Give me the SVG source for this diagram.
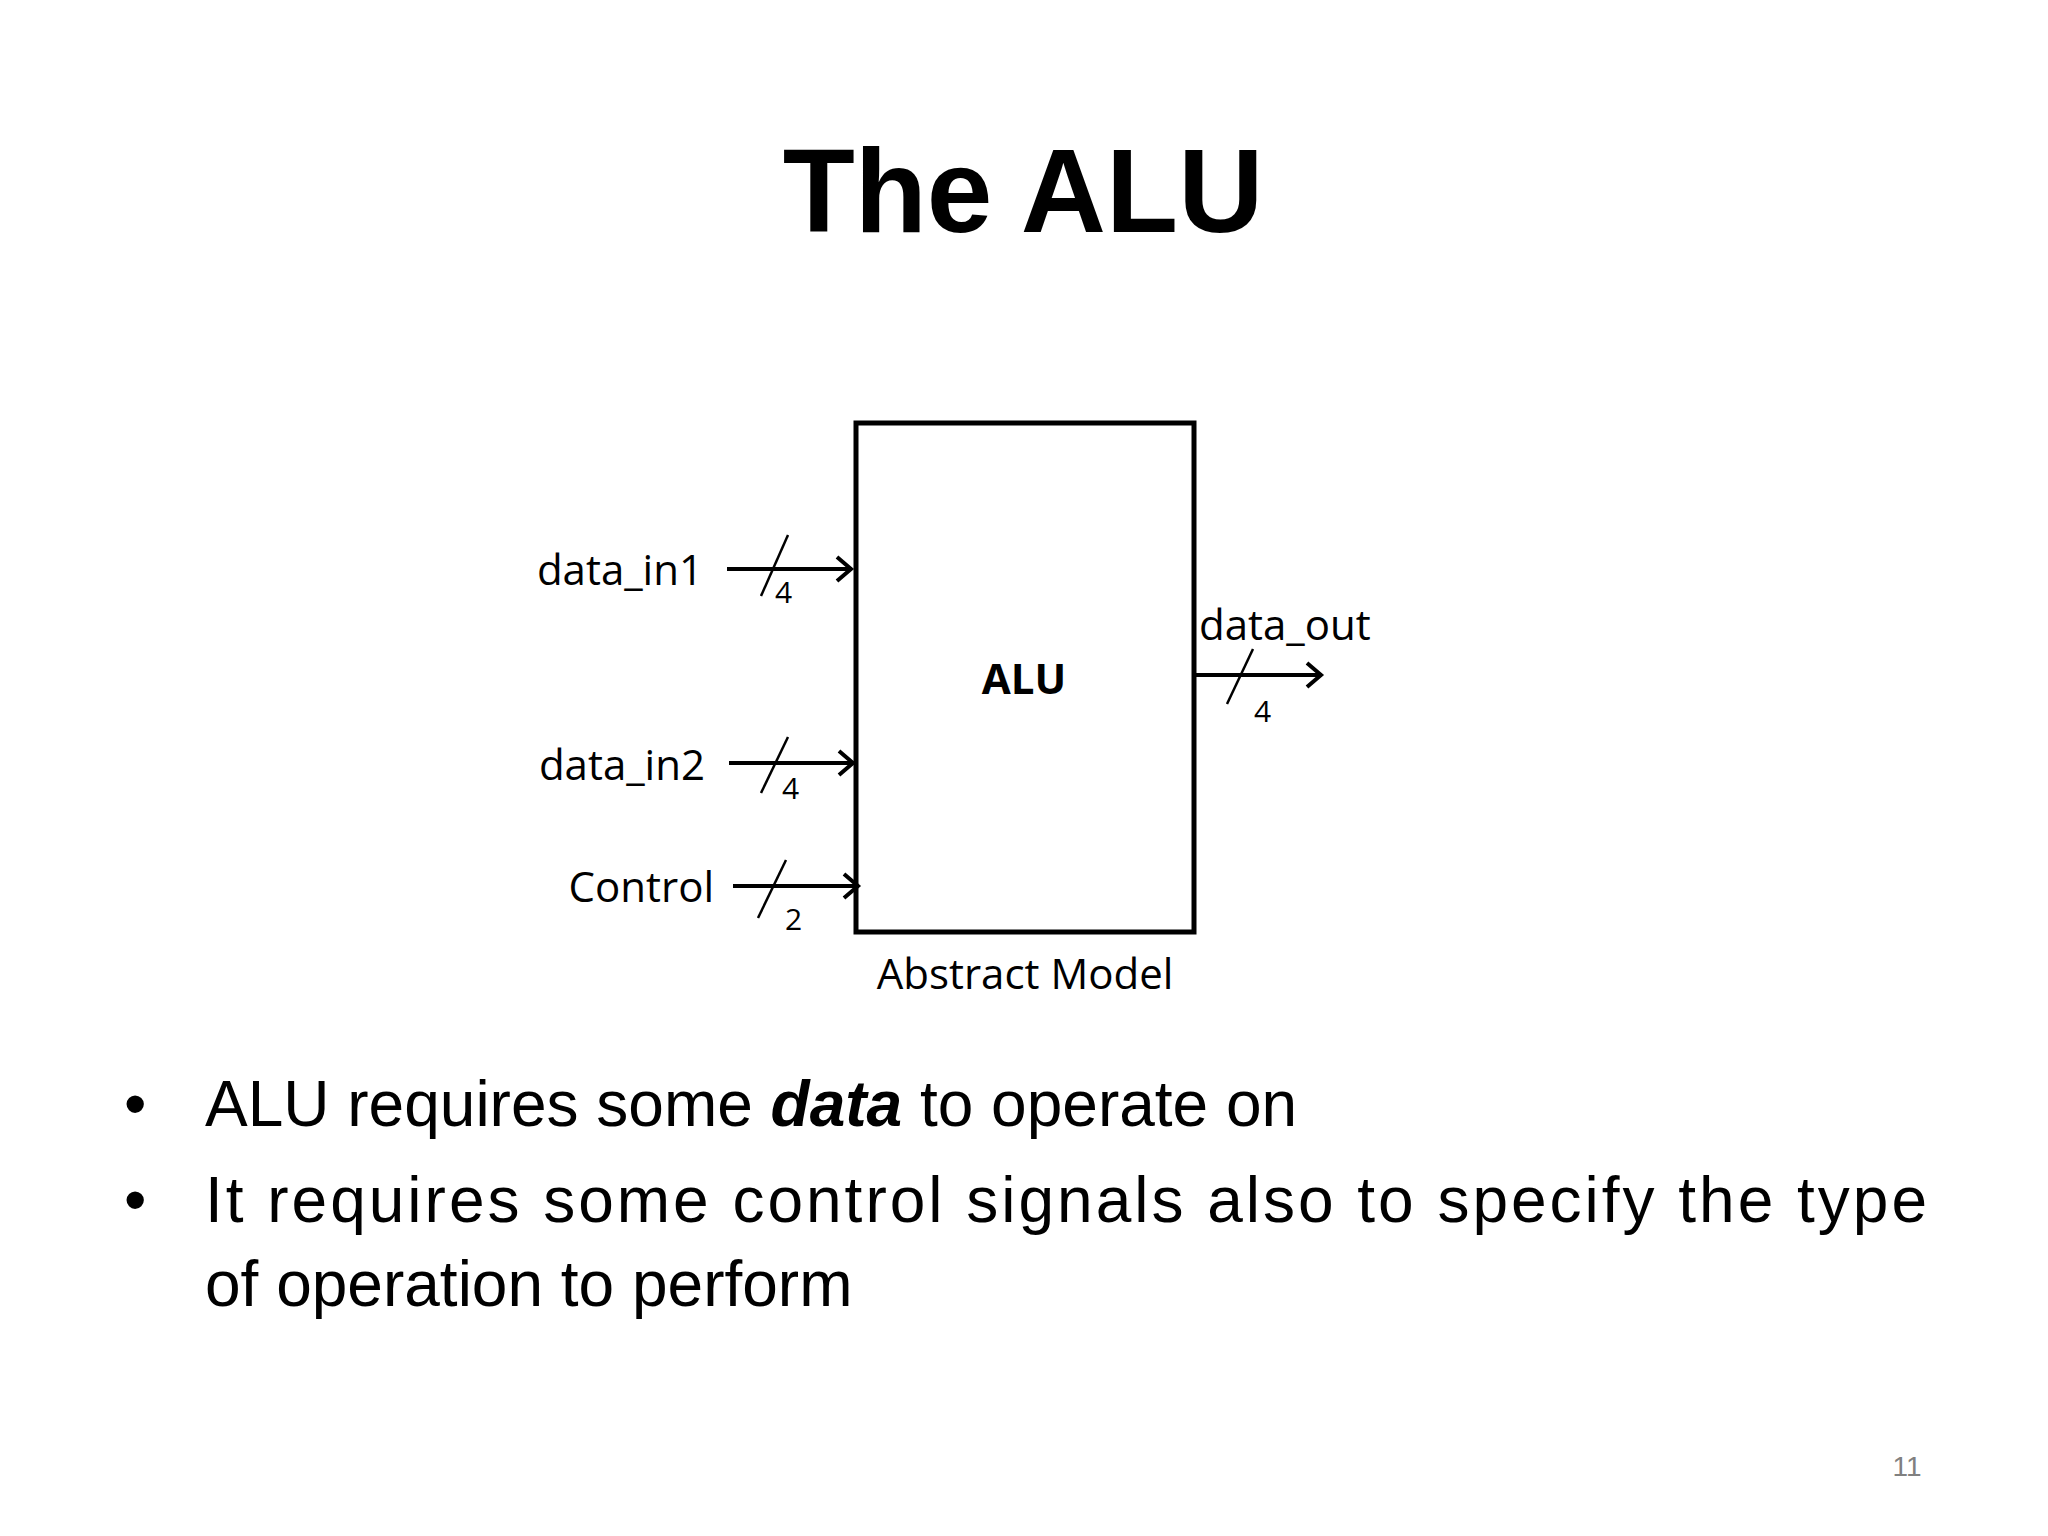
<svg xmlns="http://www.w3.org/2000/svg" width="2048" height="1536" viewBox="0 0 2048 1536">
<style>
.lbl{font-family:"Open Sans","Liberation Sans",sans-serif;font-size:42px;fill:#000}
.num{font-family:"Open Sans","Liberation Sans",sans-serif;font-size:30px;fill:#000}
.bul{font-family:"Liberation Sans",Arial,sans-serif;font-size:64px;fill:#000}
.w{stroke:#000;stroke-width:4;fill:none}
.s{stroke:#000;stroke-width:2.5}
</style>
<defs><marker id="ah" viewBox="0 0 12 12" refX="11" refY="6" markerWidth="6" markerHeight="6" markerUnits="userSpaceOnUse" orient="auto" overflow="visible"><path d="M-4,-6 L11,6 L-4,18" fill="none" stroke="#000" stroke-width="4" transform="scale(1)"/></marker></defs>
<rect width="2048" height="1536" fill="#fff"/>
<text x="1023" y="232" text-anchor="middle" font-family="Liberation Sans,Arial,sans-serif" font-weight="bold" font-size="118">The ALU</text>
<g id="alu"><rect x="856" y="423" width="338" height="509" fill="none" stroke="#000" stroke-width="5"/>
<text x="1024" y="694" text-anchor="middle" class="lbl" font-weight="bold">ALU</text>
<text x="1025" y="989" text-anchor="middle" class="lbl">Abstract Model</text></g>
<g id="labels">
<text x="703" y="585" text-anchor="end" class="lbl">data_in1</text>
<text x="705" y="780" text-anchor="end" class="lbl">data_in2</text>
<text x="714" y="902" text-anchor="end" class="lbl">Control</text>
<text x="1199" y="640" class="lbl">data_out</text>
<text x="775" y="603" class="num">4</text>
<text x="782" y="799" class="num">4</text>
<text x="785" y="930" class="num">2</text>
<text x="1254" y="722" class="num">4</text>
</g>
<g id="connectors">
<path class="w" d="M727,569H850M837,557L851,569L837,581"/>
<path class="s" d="M761,596L788,535"/>
<path class="w" d="M729,763H852M839,751L853,763L839,775"/>
<path class="s" d="M761,793L788,737"/>
<path class="w" d="M733,886H857M844,874L858,886L844,898"/>
<path class="s" d="M758,918L786,860"/>
<path class="w" d="M1196,675H1320M1307,663L1321,675L1307,687"/>
<path class="s" d="M1227,704L1253,649"/>
</g>
<g id="bullets">
<text x="124" y="1126" class="bul">•</text>
<text x="205" y="1126" class="bul">ALU requires some <tspan font-weight="bold" font-style="italic">data</tspan> to operate on</text>
<text x="124" y="1222" class="bul">•</text>
<text x="205" y="1222" class="bul" textLength="1722" lengthAdjust="spacing">It requires some control signals also to specify the type</text>
<text x="205" y="1306" class="bul">of operation to perform</text>
</g>
<text x="1907" y="1476" text-anchor="middle" font-family="Liberation Sans,sans-serif" font-size="28" fill="#808080">11</text>
</svg>
